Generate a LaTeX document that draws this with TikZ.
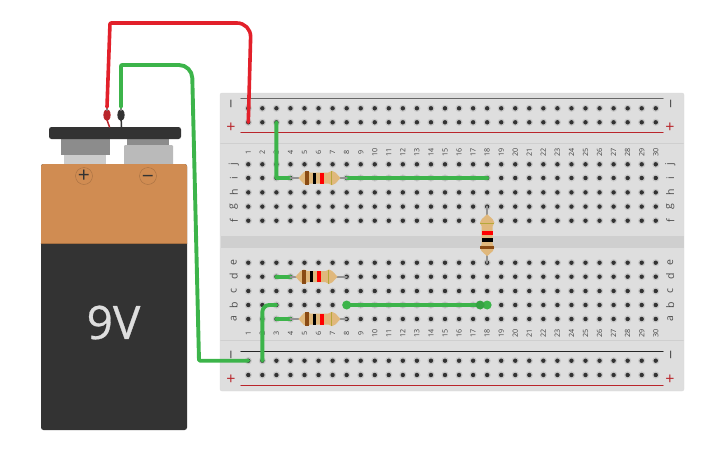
\documentclass[tikz,border=0pt]{standalone}
\usepackage{fontspec}
\setmainfont{Open Sans}
\newfontfamily\ninefont[FakeBold=0.6]{Open Sans}
\usetikzlibrary{calc}
\definecolor{boardgray}{HTML}{DEDEDE}
\definecolor{stripgray}{HTML}{CFCFCF}
\definecolor{battdark}{HTML}{333333}
\definecolor{battorange}{HTML}{D08C52}
\definecolor{wirered}{HTML}{E2202A}
\definecolor{wiregreen}{HTML}{3CB44A}
\definecolor{railred}{HTML}{B9252B}
\definecolor{restan}{HTML}{E0B87C}
\definecolor{resbrown}{HTML}{8A4B14}
\definecolor{resgold}{HTML}{B5A83A}
\tikzset{
  redwire/.style={draw=wirered,line width=3.6pt},
  greenwire/.style={draw=wiregreen,line width=3.9pt,line cap=round},
  lead/.style={draw=gray!85,line width=2.4pt},
  collabel/.style={font=\fontsize{7.2}{8}\selectfont,rotate=90,text=black!75,inner sep=0pt},
  rowlabel/.style={font=\fontsize{10.5}{11}\selectfont,rotate=90,text=black!70,inner sep=0pt},
  minuslabel/.style={font=\fontsize{16}{16}\selectfont,rotate=90,text=black!70,inner sep=0pt},
  pluslabel/.style={font=\fontsize{16}{16}\selectfont,text=railred,inner sep=0pt},
  pics/resistor/.style={code={
    \fill[restan] (0,0) -- (5,-5.5) .. controls (7,-7.8) and (10,-7.8) .. (12,-5.5) -- (30,-5.5)
      .. controls (32,-7.8) and (35,-7.8) .. (37,-5.5) -- (42,0) -- (37,5.5)
      .. controls (35,7.8) and (32,7.8) .. (30,5.5) -- (12,5.5)
      .. controls (10,7.8) and (7,7.8) .. (5,5.5) -- cycle;
    \fill[resbrown] (7,-7) rectangle (10.5,7);
    \fill[black] (14.5,-5.5) rectangle (18,5.5);
    \fill[red] (21.5,-5.5) rectangle (25.5,5.5);
    \fill[resgold] (32.3,-6.8) rectangle (33.5,6.8);
  }}
}
\begin{document}
\begin{tikzpicture}[line cap=round,line join=round,x=1pt,y=-1pt]
\useasboundingbox (0,0) rectangle (725,453);
% breadboard
\draw[draw=black!15,fill=boardgray,rounded corners=2pt] (220,93) rectangle (684,391);
\fill[stripgray] (220.5,236) rectangle (683.5,248);
\draw[stripgray] (220.5,143.5) -- (683.5,143.5);
\draw[stripgray] (220.5,340) -- (683.5,340);
\draw[line width=1.2pt,color=black!60] (241,98.5) -- (663,98.5);
\draw[line width=1.2pt,color=railred] (241,132.5) -- (663,132.5);
\draw[line width=1.1pt,color=black!85] (241,351.5) -- (663,351.5);
\draw[line width=1.2pt,color=railred] (241,385.5) -- (663,385.5);
\foreach \c in {1,...,30} {
  \pgfmathsetmacro\x{248.3+14.05*(\c-1)}
  \foreach \r/\y in {A/108.3,B/122.3,j/164.3,i/178,h/192.4,g/206.6,f/220.7,e/262.7,d/276.7,c/291,b/305,a/319,C/360.7,D/375} {
    \fill[color=black!22] (\x,\y) circle (3.6pt);
    \fill[color=battdark] (\x,\y) circle (2.2pt);
    \coordinate (h-\c-\r) at (\x,\y);
  }
  \node[collabel] (top-\c) at (\x,152) {\c};
  \node[collabel] (bot-\c) at (\x,333) {\c};
}
\foreach \r in {f,g,h,i,j,a,b,c,d,e} {
  \node[rowlabel] (left-\r) at ($(h-1-\r)+(-14.5,0)$) {\r};
  \node[rowlabel] (right-\r) at ($(h-30-\r)+(14.5,0)$) {\r};
}
\node[minuslabel] (m1) at (233.6,104) {−};
\node[minuslabel] (m2) at (673.3,104) {−};
\node[minuslabel] (m3) at (233.6,355) {−};
\node[minuslabel] (m4) at (673.3,355) {−};
\node[pluslabel] (p1) at (231,128) {+};
\node[pluslabel] (p2) at (670,128) {+};
\node[pluslabel] (p3) at (231,380) {+};
\node[pluslabel] (p4) at (670,380) {+};
% battery
\fill[color=black!45] (60.5,139) rectangle (110,155);
\fill[color=black!20] (64,155) rectangle (106,165);
\fill[color=black!45] (127,139) rectangle (169,146);
\fill[color=black!27,rounded corners=1pt] (124,145) rectangle (173,165);
\fill[color=battdark,rounded corners=2.5pt] (49,127) rectangle (181,139);
\fill[color=battdark,rounded corners=2.5pt] (41,164) rectangle (187,430);
\fill[color=battorange] (41,243) [rounded corners=2.5pt] -- (41,164) -- (187,164) [sharp corners] -- (187,243) -- cycle;
\draw[color=battorange!80!black] (41,243) -- (187,243);
\draw[color=battorange!80!black] (84,176) circle (8.5pt);
\draw[color=battorange!80!black] (148,176) circle (8.5pt);
\node[inner sep=0pt,text=battdark,font=\fontsize{21}{21}\selectfont] (plus) at (84,176) {+};
\node[inner sep=0pt,text=battdark,font=\fontsize{21}{21}\selectfont] (minus) at (148,179.5) {−};
\node[inner sep=0pt,text=boardgray,font=\ninefont\fontsize{46}{46}\selectfont] (nine) at (113.5,322.5) {9V};
% clips
\coordinate (redtip) at (107,107);
\coordinate (blacktip) at (121,107);
\coordinate (redtop) at (110,23);
\coordinate (redright) at (251,23);
\coordinate (greentop) at (121,65);
\coordinate (greenright) at (192,65);
\coordinate (greenbot) at (199,360.7);
\coordinate (bendB) at (262.35,305);
\coordinate (bendA) at (276.4,178);
\draw[color=railred,line width=1.5pt] (107,118) .. controls (107,122) and (109,124) .. (109.5,127);
\draw[color=battdark,line width=1.5pt] (121,118) .. controls (121,122) and (122,124) .. (121.5,127);
\fill[color=railred] (107,115) ellipse (3.6pt and 6pt);
\fill[color=battdark] (121,115) ellipse (3.6pt and 6pt);
\draw[color=gray,line width=2.4pt] (107,107) -- (107,110);
\draw[color=gray,line width=2.4pt] (121,107) -- (121,110);
% wires
\draw[redwire,rounded corners=1pt] (redtip) -- (redtop) [rounded corners=14pt] -- (redright) -- (h-1-B);
\draw[greenwire,rounded corners=1pt] (blacktip) -- (greentop) [rounded corners=13pt] -- (greenright) [rounded corners=1pt] -- (greenbot) -- (h-1-C);
\draw[greenwire] (h-3-B) -- (bendA) -- (h-4-i);
\draw[greenwire] (h-8-i) -- (h-18-i);
\draw[greenwire] (h-3-d) -- (h-4-d);
\draw[greenwire] (h-3-a) -- (h-4-a);
\draw[greenwire,rounded corners=7pt] (h-3-b) -- (bendB) -- (h-2-C);
\draw[greenwire] (h-8-b) -- (h-18-b);
\fill[color=wiregreen] (h-8-b) circle (4.5pt);
\fill[color=wiregreen] (h-18-b) circle (4.5pt);
\fill[color=wiregreen!90!black] ($(h-18-b)+(-7,0)$) circle (4.5pt);
% resistors
\draw[lead] (h-4-i) -- (h-8-i);
\draw[lead] (h-4-d) -- (h-8-d);
\draw[lead] (h-4-a) -- (h-8-a);
\draw[lead] (h-18-g) -- (h-18-e);
\pic (res1) at ($(h-4-i)+(8,0)$) {resistor};
\pic (res2) at ($(h-4-d)+(5,0)$) {resistor};
\pic (res3) at ($(h-4-a)+(8,0)$) {resistor};
\pic[rotate=90] (res4) at ($(h-18-e)+(0,-6.5)$) {resistor};
\end{tikzpicture}
\end{document}
